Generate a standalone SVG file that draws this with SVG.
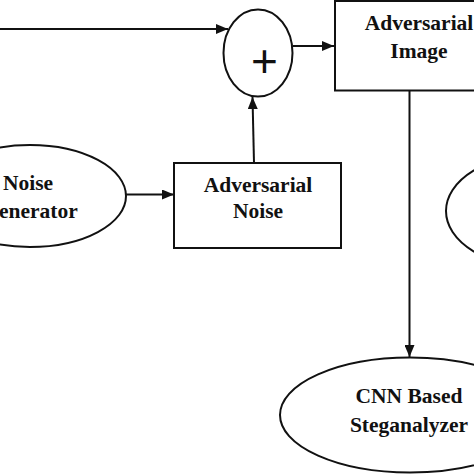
<svg xmlns="http://www.w3.org/2000/svg" width="474" height="474" viewBox="0 0 474 474">
<style>
.s{fill:#fff;stroke:#111;stroke-width:2}
.t{font-family:"Liberation Serif","Times New Roman",serif;font-weight:bold;font-size:21.5px;fill:#111;text-anchor:middle}
.c{stroke:#111;stroke-width:2;fill:none;marker-end:url(#a)}
</style>
<defs>
<marker id="a" viewBox="0 0 12 10" refX="12" refY="5" markerWidth="12" markerHeight="10" markerUnits="userSpaceOnUse" orient="auto">
<path d="M0,0 L12,5 L0,10 Z" fill="#111"/>
</marker>
</defs>
<rect width="474" height="474" fill="#fff"/>
<g id="adder">
<ellipse class="s" cx="258" cy="53" rx="34.5" ry="43.5"/>
<text x="264.5" y="77" style="font-family:'Liberation Sans',Arial,sans-serif;font-size:46px;fill:#111;text-anchor:middle">+</text>
</g>
<g id="adversarial-image">
<rect class="s" x="335" y="1" width="150" height="89.5"/>
<text class="t" x="419" y="30">Adversarial</text>
<text class="t" x="419" y="58">Image</text>
</g>
<g id="noise-generator">
<ellipse class="s" cx="30" cy="196" rx="96" ry="51"/>
<text class="t" x="28" y="190">Noise</text>
<text class="t" x="30" y="218">Generator</text>
</g>
<g id="adversarial-noise">
<rect class="s" x="174" y="163" width="167" height="85"/>
<text class="t" x="258" y="192">Adversarial</text>
<text class="t" x="258" y="218">Noise</text>
</g>
<g id="cnn-steganalyzer">
<ellipse class="s" cx="410" cy="415" rx="130" ry="57.5"/>
<text class="t" x="409" y="403">CNN Based</text>
<text class="t" x="409" y="432">Steganalyzer</text>
</g>
<g id="right-node">
<ellipse class="s" cx="540" cy="211" rx="94" ry="57"/>
</g>
<g id="connectors">
<path class="c" d="M0,29 L228,29"/>
<path class="c" d="M293,46 L334,46"/>
<path class="c" d="M126,194.5 L174,194.5"/>
<path class="c" d="M254,163 L252.5,97"/>
<path class="c" d="M409.5,90.5 L409.5,357"/>
</g>
</svg>
